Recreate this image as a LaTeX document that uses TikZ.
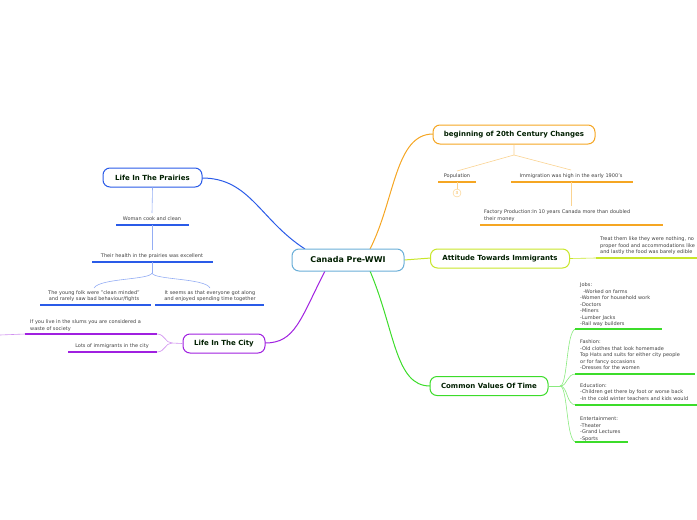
\documentclass[tikz,border=0pt]{standalone}
\usepackage{fontspec}
\setmainfont{DejaVu Sans}
\begin{document}
\begin{tikzpicture}[x=1pt,y=-1pt,
  main/.style={draw=#1,line width=1pt,rounded corners=7pt,fill=white,font=\fontsize{7}{8}\selectfont\bfseries,text=black!70!green!40!black,inner sep=0pt},
  txt/.style={font=\fontsize{5}{6.5}\selectfont,text=black!75,inner sep=0pt,align=left},
  ul/.style={draw=#1,line width=1.2pt}]
\useasboundingbox (0,0) rectangle (697,520);
\clip (0,0) rectangle (697,520);
\definecolor{cb}{HTML}{2A5BE8}\definecolor{co}{HTML}{F5A623}\definecolor{cy}{HTML}{C8E62A}
\definecolor{cg}{HTML}{3CDC2A}\definecolor{cp}{HTML}{A020E0}\definecolor{cc}{HTML}{6AAFD8}
% main connectors
\coordinate (c1) at (370,249);\coordinate (c2) at (370,271);\coordinate (c3) at (305,249);\coordinate (c4) at (325,271);
\draw[co,line width=1pt] (c1) .. controls (395,200) and (395,134) .. (433,134) coordinate (b1);
\draw[cy,line width=1pt] (404,260) -- (431,258);
\draw[cg,line width=1pt] (c2) .. controls (395,330) and (395,386) .. (430,386);
\draw[cb,line width=1pt] (c3) .. controls (260,220) and (250,178) .. (202,178);
\draw[cp,line width=1pt] (c4) .. controls (300,320) and (295,343) .. (265,343);
% main nodes
\node[main=cc,minimum width=112pt,minimum height=22pt,font=\fontsize{8}{9}\selectfont\bfseries] (cen) at (348,260) {Canada Pre-WWI};
\node[main=co,minimum width=162pt,minimum height=19pt] (beg) at (514,134.5) {beginning of 20th Century Changes};
\node[main=cy,minimum width=139pt,minimum height=19pt] (att) at (500,258.5) {Attitude Towards Immigrants};
\node[main=cg,minimum width=118pt,minimum height=19pt] (com) at (489,386) {Common Values Of Time};
\node[main=cb,minimum width=99pt,minimum height=19pt] (pra) at (152.5,177.5) {Life In The Prairies};
\node[main=cp,minimum width=82pt,minimum height=19pt] (city) at (224,343.5) {Life In The City};
% beginning branch
\draw[co!50,line width=0.6pt] (beg.south) -- (514,155) coordinate (bj) -- (457,171);
\draw[co!50,line width=0.6pt] (bj) -- (571,170);
\node[txt] (pop) at (457,176) {Population};
\draw[ul=co] (438,182) -- (476,182);
\draw[co!50,line width=0.6pt] (457,182) -- (457,189);
\node[draw=co!60,circle,minimum size=8pt,inner sep=0pt,font=\fontsize{4}{4}\selectfont,text=co] (n3) at (457,193) {3};
\node[txt] (imm) at (571,176) {Immigration was high in the early 1900's};
\draw[ul=co] (511,182) -- (633,182);
\draw[co!50,line width=0.6pt] (571,182) -- (571,206);
\node[txt,anchor=west] (fac) at (484,215.5) {Factory Production:In 10 years Canada more than doubled\\their money};
\draw[ul=co] (480,225) -- (663,225);
% attitude
\draw[cy,line width=0.6pt] (att.east) -- (596,258);
\node[txt,anchor=west] (treat) at (600,246) {Treat them like they were nothing, no\\proper food and accommodations like\\and lastly the food was barely edible};
\draw[ul=cy] (596,258) -- (697,258);
% common values
\coordinate (gj) at (560,386);
\draw[cg!60,line width=0.6pt] (com.east) -- (gj);
\foreach \y in {329,374,405,442}{\draw[cg!60,line width=0.6pt] (gj) .. controls (568,386) and (566,\y) .. (576,\y);}
\node[txt,anchor=west] (jobs) at (580,305) {Jobs:\\\ \ -Worked on farms\\-Women for household work\\-Doctors\\-Miners\\-Lumber Jacks\\-Rail way builders};
\draw[ul=cg] (575,329) -- (662,329);
\node[txt,anchor=west] (fash) at (580,355) {Fashion:\\-Old clothes that look homemade\\Top Hats and suits for either city people\\or for fancy occasions\\-Dresses for the women};
\draw[ul=cg] (575,374) -- (695,374);
\node[txt,anchor=west] (edu) at (580,392) {Education:\\-Children get there by foot or worse back\\-In the cold winter teachers and kids would};
\draw[ul=cg] (575,405) -- (697,405);
\node[txt,anchor=west] (ent) at (580,429) {Entertainment:\\-Theater\\-Grand Lectures\\-Sports};
\draw[ul=cg] (575,442) -- (628,442);
% prairies
\draw[cb!50,line width=0.6pt] (pra.south) -- (152,213);
\node[txt] (wom) at (152,219) {Woman cook and clean};
\draw[ul=cb] (116,225) -- (189,225);
\draw[cb!50,line width=0.6pt] (152,225) -- (152,250);
\node[txt] (hea) at (152,256) {Their health in the prairies was excellent};
\draw[ul=cb] (92,262) -- (213,262);
\draw[cb!50,line width=0.6pt] (152,262) -- (152,273) coordinate (hj);
\draw[cb!50,line width=0.6pt] (hj) .. controls (150,280) and (100,278) .. (94,288);
\draw[cb!50,line width=0.6pt] (hj) .. controls (154,280) and (205,278) .. (210,288);
\node[txt,align=center] (yf) at (94,296) {The young folk were "clean minded"\\and rarely saw bad behaviour/fights};
\draw[ul=cb] (40,305) -- (151,305);
\node[txt,align=center] (seem) at (210,296) {It seems as that everyone got along\\and enjoyed spending time together};
\draw[ul=cb] (155,305) -- (264,305);
% city
\coordinate (cj) at (172,343);
\draw[cp!50,line width=0.6pt] (city.west) -- (cj);
\draw[cp!50,line width=0.6pt] (cj) .. controls (165,343) and (165,334) .. (157,334);
\draw[cp!50,line width=0.6pt] (cj) .. controls (165,343) and (165,352) .. (157,352);
\node[txt,anchor=west] (slum) at (30,325.5) {If you live in the slums you are considered a\\waste of society};
\draw[ul=cp] (25,334) -- (157,334);
\draw[cp!50,line width=0.6pt] (25,334) -- (0,335);
\node[txt] (lots) at (112,346) {Lots of immigrants in the city};
\draw[ul=cp] (68,352) -- (157,352);
\end{tikzpicture}
\end{document}
